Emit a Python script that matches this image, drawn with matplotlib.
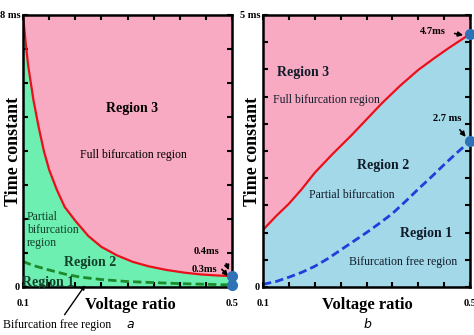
import matplotlib
matplotlib.use("Agg")
import matplotlib.pyplot as plt
import numpy as np

plt.rcParams['font.family'] = ['Liberation Serif', 'DejaVu Serif']

# panel a: boundaries between regions (time constant in ms vs voltage ratio)
a_red_x = [0.1, 0.105, 0.11, 0.12, 0.13, 0.14, 0.15, 0.165, 0.18, 0.2,
           0.225, 0.25, 0.28, 0.31, 0.34, 0.375, 0.41, 0.44, 0.47, 0.5]
a_red_y = [8.0, 7.2, 6.5, 5.5, 4.7, 4.0, 3.45, 2.85, 2.35, 1.95,
           1.5, 1.18, 0.93, 0.74, 0.61, 0.5, 0.42, 0.37, 0.34, 0.32]
a_green_x = [0.1, 0.12, 0.15, 0.18, 0.21, 0.25, 0.3, 0.35, 0.4, 0.45, 0.5]
a_green_y = [0.75, 0.63, 0.5, 0.38, 0.29, 0.22, 0.16, 0.13, 0.1, 0.08, 0.06]

# panel b
b_red_x = [0.1, 0.125, 0.15, 0.175, 0.2, 0.235, 0.27, 0.3, 0.33, 0.365,
           0.4, 0.43, 0.46, 0.5]
b_red_y = [1.05, 1.3, 1.53, 1.8, 2.1, 2.45, 2.78, 3.08, 3.38, 3.7,
           3.99, 4.2, 4.4, 4.65]
b_blue_x = [0.1, 0.125, 0.15, 0.175, 0.2, 0.225, 0.25, 0.275, 0.3, 0.325,
            0.35, 0.375, 0.4, 0.425, 0.45, 0.475, 0.5]
b_blue_y = [0.05, 0.1, 0.18, 0.27, 0.38, 0.52, 0.68, 0.84, 1.0, 1.17,
            1.35, 1.57, 1.8, 2.02, 2.25, 2.47, 2.68]

a_ymax = 8
b_ymax = 5

pink = '#f9aac3'
mint = '#6cefb0'
lblue = '#a3d8e8'
dark_green_txt = '#12402a'
navy_txt = '#111c2a'
dot_col = '#2f72b8'

fig = plt.figure(figsize=(4.74, 3.35), dpi=100)
W, H = 474, 335


def px_axes(x0, x1, y0, y1):
    # axes from pixel box (top-left origin)
    return fig.add_axes([x0 / W, 1 - y1 / H, (x1 - x0) / W, (y1 - y0) / H])


def style(ax, ymax, ystep, ytop_label, ylab_x, xlab_x):
    ax.set_xlim(0.1, 0.5)
    ax.set_ylim(0, ymax)
    for s in ax.spines.values():
        s.set_linewidth(1.8)
    xt = np.linspace(0.1, 0.5, 9)
    ax.set_xticks(xt)
    ax.set_xticklabels(['0.1'] + [''] * 7 + ['0.5'])
    yt = np.arange(0, ymax + 0.001, ystep)
    ax.set_yticks(yt)
    ax.set_yticklabels(['0'] + [''] * (len(yt) - 2) + [ytop_label])
    ax.tick_params(direction='in', length=3.5, width=1.5, top=True, right=True,
                   labelsize=7.5)
    ax.tick_params(axis='x', pad=9)
    ax.tick_params(axis='y', pad=2)
    for lab in ax.get_xticklabels() + ax.get_yticklabels():
        lab.set_fontweight('bold')
    ax.set_xlabel('Voltage ratio', fontsize=12, fontweight='bold')
    ax.set_ylabel('Time constant', fontsize=13, fontweight='bold')
    ax.xaxis.set_label_coords(xlab_x, -0.036)
    ax.yaxis.set_label_coords(ylab_x, 0.5)


# ---- panel a ----
ax1 = px_axes(23, 232, 15, 287)
ax1.fill_between(a_red_x, a_red_y, a_ymax, color=pink, lw=0)
ax1.fill_between(a_red_x, 0, a_red_y, color=mint, lw=0)
ax1.plot(a_red_x, a_red_y, color='#e8101a', lw=1.6)
ax1.plot(a_green_x, a_green_y, color='#1d8a2c', lw=2.0, ls=(0, (3, 1.5)))
ax1.plot([0.5, 0.5], [a_red_y[-1], a_green_y[-1]], 'o', color=dot_col,
         ms=7, clip_on=False, zorder=5)
style(ax1, a_ymax, 1, '8 ms', -0.006, 0.512)

ax1.text(0.309, 5.26, 'Region 3', fontsize=10, fontweight='bold',
         ha='center', va='center')
ax1.text(0.311, 3.88, 'Full bifurcation region', fontsize=8.5,
         ha='center', va='center')
ax1.text(0.107, 1.68, 'Partial\nbifurcation\nregion', fontsize=8.5,
         ha='left', va='center', color=dark_green_txt, linespacing=1.1)
ax1.text(0.228, 0.71, 'Region 2', fontsize=10, fontweight='bold',
         ha='center', va='center', color=dark_green_txt)
ax1.text(0.148, 0.14, 'Region 1', fontsize=10, fontweight='bold',
         ha='center', va='center', color=dark_green_txt)
ax1.text(0.452, 1.03, '0.4ms', fontsize=7.5, fontweight='bold',
         ha='center', va='center')
ax1.text(0.448, 0.5, '0.3ms', fontsize=7.5, fontweight='bold',
         ha='center', va='center')
arrow = dict(arrowstyle='-|>', color='black', lw=1.2, mutation_scale=7)
ax1.annotate('', xy=(0.496, 0.42), xytext=(0.487, 0.76), arrowprops=arrow)
ax1.annotate('', xy=(0.496, 0.26), xytext=(0.477, 0.58), arrowprops=arrow)
ax1.annotate('', xy=(0.222, 0.12), xytext=(63, H - 317),
             textcoords='figure pixels',
             arrowprops=dict(arrowstyle='-|>', color='black', lw=1.0,
                             mutation_scale=6))
fig.text(57 / W, 1 - 325 / H, 'Bifurcation free region', fontsize=8.5,
         ha='center', va='center')
fig.text(130 / W, 1 - 325 / H, 'a', fontsize=9, style='italic',
         family='DejaVu Sans', ha='center', va='center')

# ---- panel b ----
ax2 = px_axes(263, 470, 15, 287)
ax2.fill_between(b_red_x, b_red_y, b_ymax, color=pink, lw=0)
ax2.fill_between(b_red_x, 0, b_red_y, color=lblue, lw=0)
ax2.plot(b_red_x, b_red_y, color='#e8101a', lw=1.6)
ax2.plot(b_blue_x, b_blue_y, color='#1e3fdc', lw=2.0, ls=(0, (3, 1.5)))
ax2.plot([0.5, 0.5], [b_red_y[-1], b_blue_y[-1]], 'o', color=dot_col,
         ms=7, clip_on=False, zorder=5)
style(ax2, b_ymax, 0.5, '5 ms', -0.012, 0.502)

ax2.text(0.127, 3.95, 'Region 3', fontsize=10, fontweight='bold',
         ha='left', va='center', color=navy_txt)
ax2.text(0.119, 3.44, 'Full bifurcation region', fontsize=8.5,
         ha='left', va='center', color=navy_txt)
ax2.text(0.333, 2.24, 'Region 2', fontsize=10, fontweight='bold',
         ha='center', va='center', color=navy_txt)
ax2.text(0.272, 1.69, 'Partial bifurcation', fontsize=8.5,
         ha='center', va='center', color=navy_txt)
ax2.text(0.415, 0.99, 'Region 1', fontsize=10, fontweight='bold',
         ha='center', va='center', color=navy_txt)
ax2.text(0.371, 0.46, 'Bifurcation free region', fontsize=8.5,
         ha='center', va='center', color=navy_txt)
ax2.text(0.429, 4.69, '4.7ms', fontsize=7.5, fontweight='bold',
         ha='center', va='center')
ax2.text(0.456, 3.1, '2.7 ms', fontsize=7.5, fontweight='bold',
         ha='center', va='center')
ax2.annotate('', xy=(0.492, 4.62), xytext=(0.465, 4.67), arrowprops=arrow)
ax2.annotate('', xy=(0.495, 2.72), xytext=(0.477, 2.93), arrowprops=arrow)
fig.text(367 / W, 1 - 325 / H, 'b', fontsize=9, style='italic',
         family='DejaVu Sans', ha='center', va='center')

fig.savefig('out.png', dpi=100)
